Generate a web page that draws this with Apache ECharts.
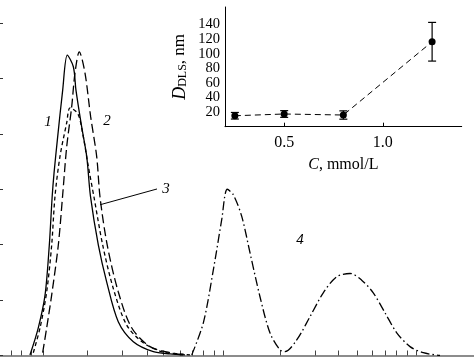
<!DOCTYPE html>
<html><head><meta charset="utf-8">
<script src="https://cdn.jsdelivr.net/npm/echarts@6/dist/echarts.min.js"></script>
<style>html,body{margin:0;padding:0;background:#fff}#c{width:474px;height:357px}</style>
</head><body><div id="c"></div>
<script>
// Main chart: x = log size (arbitrary log units), y = intensity (arb. units)
const curve1 = [[0.253,0.01],[0.323,0.50],[0.380,1.09],[0.416,1.99],[0.440,2.86],[0.456,3.29],[0.484,3.89],[0.529,4.79],[0.568,5.42],[0.619,5.21],[0.641,4.79],[0.689,4.13],[0.732,3.59],[0.763,2.88],[0.830,1.99],[0.900,1.33],[0.998,0.61],[1.125,0.25],[1.294,0.07],[1.435,0.03],[1.561,0.01]];
const curve2 = [[0.360,0.05],[0.394,0.50],[0.436,1.09],[0.492,1.99],[0.529,2.90],[0.563,3.77],[0.605,4.49],[0.633,5.10],[0.669,5.48],[0.717,5.10],[0.765,4.31],[0.816,3.59],[0.844,2.86],[0.905,1.99],[0.998,1.15],[1.111,0.50],[1.266,0.16],[1.435,0.05],[1.544,0.01]];
const curve3 = [[0.281,0.05],[0.338,0.50],[0.394,1.15],[0.436,1.99],[0.464,2.87],[0.506,3.59],[0.563,4.20],[0.591,4.47],[0.658,4.36],[0.700,3.98],[0.743,3.44],[0.793,2.86],[0.867,1.99],[0.956,1.21],[1.069,0.55],[1.209,0.23],[1.378,0.06],[1.519,0.03],[1.603,0.01]];
const curve4 = [[1.618,0.01],[1.716,0.59],[1.800,1.54],[1.871,2.45],[1.918,3.00],[1.969,2.90],[2.040,2.51],[2.110,1.85],[2.194,1.06],[2.278,0.41],[2.363,0.10],[2.405,0.07],[2.504,0.28],[2.616,0.70],[2.728,1.13],[2.841,1.42],[2.954,1.48],[3.052,1.36],[3.150,1.13],[3.249,0.77],[3.348,0.41],[3.460,0.16],[3.572,0.05],[3.713,0.00]];
const mainXTicks = [0.093,0.177,0.262,0.363,0.734,1.030,1.241,1.376,1.519,1.620,1.713,1.806,1.882,2.363,2.658,2.852,3.013,3.139,3.249,3.342,3.435,3.511];
const curveLabels = [['1',0.405,4.21],['2',0.903,4.23],['3',1.401,3.01],['4',2.532,2.08]];
const arrowFrom = [1.325,3.005];
const arrowTo = [0.844,2.72];

// Inset: D_DLS vs C
const concC = [0.25,0.5,0.8,1.25];
const sizeD = [15,17.4,16,116.4];
const sizeErr = [4.5,4.6,5.7,26.5];
const insetXTicks = [0.5,1.0];
const insetYTicks = [20,40,60,80,100,120,140];

const serif = 'Liberation Serif, Times New Roman, serif';
const black = '#000';

function lbl(i){
  const L = curveLabels[i];
  return {symbol:'circle', symbolSize:1, itemStyle:{color:'rgba(0,0,0,0)'}, silent:true,
    label:{show:true, position:'inside', formatter:L[0], color:black, fontFamily:serif, fontStyle:'italic', fontSize:15},
    data:[{coord:[L[1],L[2]]}]};
}
function lineSeries(data, type, i, extra){
  return Object.assign({type:'line', xAxisIndex:0, yAxisIndex:0, data:data, symbol:'none', smooth:0.3,
    lineStyle:{color:black, width:1.3, type:type}, markPoint:lbl(i), z:3}, extra||{});
}

const chart = echarts.init(document.getElementById('c'), null, {renderer:'canvas'});
chart.setOption({
  animation:false,
  backgroundColor:'#fff',
  grid:[
    {left:0, right:0, top:23, bottom:1.5},
    {left:225, top:7, width:236.7, height:119.7}
  ],
  xAxis:[
    {gridIndex:0, type:'value', min:0, max:4, splitLine:{show:false},
     axisLine:{show:true, lineStyle:{color:'#8c8c8c', width:2}},
     axisTick:{show:true, inside:true, length:5, customValues:mainXTicks, lineStyle:{color:'#444', width:1}},
     axisLabel:{show:false}},
    {gridIndex:1, type:'value', min:0.2, max:1.4, splitLine:{show:false},
     axisLine:{show:true, lineStyle:{color:black, width:1}},
     axisTick:{show:true, inside:true, length:4, customValues:insetXTicks, lineStyle:{color:black}},
     axisLabel:{show:true, customValues:insetXTicks, formatter:v=>v.toFixed(1), margin:8, color:black, fontFamily:serif, fontSize:16},
     name:'{i|C}, mmol/L', nameLocation:'middle', nameGap:30,
     nameTextStyle:{color:black, fontFamily:serif, fontSize:16, rich:{i:{fontStyle:'italic', fontFamily:serif, fontSize:16, color:black}}}}
  ],
  yAxis:[
    {gridIndex:0, type:'value', min:0, max:6, interval:1, splitLine:{show:false},
     axisLine:{show:false},
     axisTick:{show:true, inside:true, length:3, lineStyle:{color:'#333'}},
     axisLabel:{show:false}},
    {gridIndex:1, type:'value', min:0, max:164, interval:20, splitLine:{show:false},
     axisLine:{show:true, lineStyle:{color:black, width:1}},
     axisTick:{show:false},
     axisLabel:{show:true, margin:5, color:black, fontFamily:serif, fontSize:14.5, hideOverlap:false,
       formatter:v=>insetYTicks.indexOf(v)>=0 ? String(v) : ''},
     name:'{i|D}{s|DLS}, nm', nameLocation:'middle', nameGap:36,
     nameTextStyle:{color:black, fontFamily:serif, fontSize:17,
       rich:{i:{fontStyle:'italic', fontFamily:serif, fontSize:18, color:black},
             s:{fontFamily:serif, fontSize:12, color:black, verticalAlign:'bottom', padding:[6,0,0,0]}}}}
  ],
  series:[
    lineSeries(curve1, 'solid', 0),
    lineSeries(curve2, [9,4], 1),
    lineSeries(curve3, [4,3], 2, {markLine:{silent:true, symbol:['none','arrow'], symbolSize:[0,7],
      lineStyle:{color:black, width:1, type:'solid'}, label:{show:false},
      data:[[{coord:arrowFrom},{coord:arrowTo}]]}}),
    lineSeries(curve4, [9,3,1.5,3], 3),
    {type:'line', xAxisIndex:1, yAxisIndex:1, data:concC.map((c,i)=>[c,sizeD[i]]),
     symbol:'circle', symbolSize:7, itemStyle:{color:black}, z:4,
     lineStyle:{color:black, width:1, type:[6,4]}},
    {type:'custom', xAxisIndex:1, yAxisIndex:1, z:4, silent:true,
     data:concC.map((c,i)=>[c,sizeD[i],sizeErr[i]]),
     renderItem:function(params, api){
       const x=api.value(0), y=api.value(1), e=api.value(2);
       const t=api.coord([x,y+e]), b=api.coord([x,y-e]);
       const hw=4, st={stroke:black, lineWidth:1.2};
       return {type:'group', children:[
         {type:'line', shape:{x1:t[0],y1:t[1],x2:b[0],y2:b[1]}, style:st},
         {type:'line', shape:{x1:t[0]-hw,y1:t[1],x2:t[0]+hw,y2:t[1]}, style:st},
         {type:'line', shape:{x1:b[0]-hw,y1:b[1],x2:b[0]+hw,y2:b[1]}, style:st}
       ]};
     }}
  ]
});
</script>
</body></html>
